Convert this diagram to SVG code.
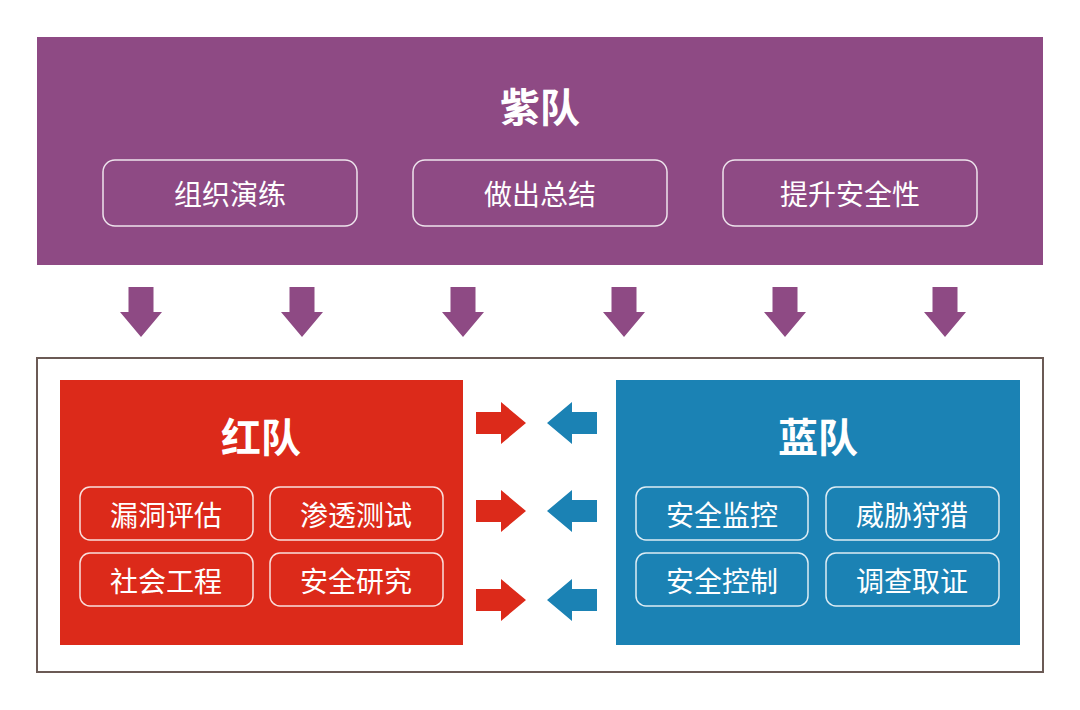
<svg xmlns="http://www.w3.org/2000/svg" width="1080" height="710" viewBox="0 0 1080 710">
<style>
text{font-family:"Noto Sans CJK SC","Noto Sans",sans-serif;fill:#fff;text-anchor:middle;dominant-baseline:central}
.t{font-size:40px;font-weight:bold}
.s{font-size:28px}
.p{fill:none;stroke:#fff;stroke-width:1.5;stroke-opacity:.85}
.pa{fill:#8E4A84}.ra{fill:#DC2A1A}.ba{fill:#1B82B4}
</style>
<rect width="1080" height="710" fill="#fff"/>
<g id="purple">
<rect x="37" y="37" width="1006" height="228" fill="#8E4A84"/>
<text class="t" x="540" y="105">紫队</text>
<rect class="p" x="103" y="160" width="254" height="66" rx="12"/><text class="s" x="230" y="193">组织演练</text>
<rect class="p" x="413" y="160" width="254" height="66" rx="12"/><text class="s" x="540" y="193">做出总结</text>
<rect class="p" x="723" y="160" width="254" height="66" rx="12"/><text class="s" x="850" y="193">提升安全性</text>
</g>
<g id="outer"><rect x="37" y="358" width="1006" height="314" fill="none" stroke="#6B5A55" stroke-width="2"/></g>
<g id="red">
<rect x="60" y="380" width="403" height="265" fill="#DC2A1A"/>
<text class="t" x="261" y="435">红队</text>
<rect class="p" x="80" y="487" width="173" height="53" rx="10"/><text class="s" x="166" y="514">漏洞评估</text>
<rect class="p" x="270" y="487" width="173" height="53" rx="10"/><text class="s" x="356" y="514">渗透测试</text>
<rect class="p" x="80" y="553" width="173" height="53" rx="10"/><text class="s" x="166" y="580">社会工程</text>
<rect class="p" x="270" y="553" width="173" height="53" rx="10"/><text class="s" x="356" y="580">安全研究</text>
</g>
<g id="blue">
<rect x="616" y="380" width="404" height="265" fill="#1B82B4"/>
<text class="t" x="818" y="435">蓝队</text>
<rect class="p" x="636" y="487" width="172" height="53" rx="10"/><text class="s" x="722" y="514">安全监控</text>
<rect class="p" x="826" y="487" width="173" height="53" rx="10"/><text class="s" x="912" y="514">威胁狩猎</text>
<rect class="p" x="636" y="553" width="172" height="53" rx="10"/><text class="s" x="722" y="580">安全控制</text>
<rect class="p" x="826" y="553" width="173" height="53" rx="10"/><text class="s" x="912" y="580">调查取证</text>
</g>
<defs>
<path id="down" d="M-12.5,0H12.5V25H21L0,50L-21,25H-12.5Z"/>
<path id="right" d="M0,-11H25V-21L50,0L25,21V11H0Z"/>
<path id="left" d="M0,-11H-25V-21L-50,0L-25,21V11H0Z"/>
</defs>
<g id="connectors">
<use href="#down" class="pa" x="141" y="287"/>
<use href="#down" class="pa" x="302" y="287"/>
<use href="#down" class="pa" x="463" y="287"/>
<use href="#down" class="pa" x="624" y="287"/>
<use href="#down" class="pa" x="785" y="287"/>
<use href="#down" class="pa" x="945" y="287"/>
<use href="#right" class="ra" x="476" y="423"/>
<use href="#right" class="ra" x="476" y="511"/>
<use href="#right" class="ra" x="476" y="600"/>
<use href="#left" class="ba" x="597" y="423"/>
<use href="#left" class="ba" x="597" y="511"/>
<use href="#left" class="ba" x="597" y="600"/>
</g>
</svg>
